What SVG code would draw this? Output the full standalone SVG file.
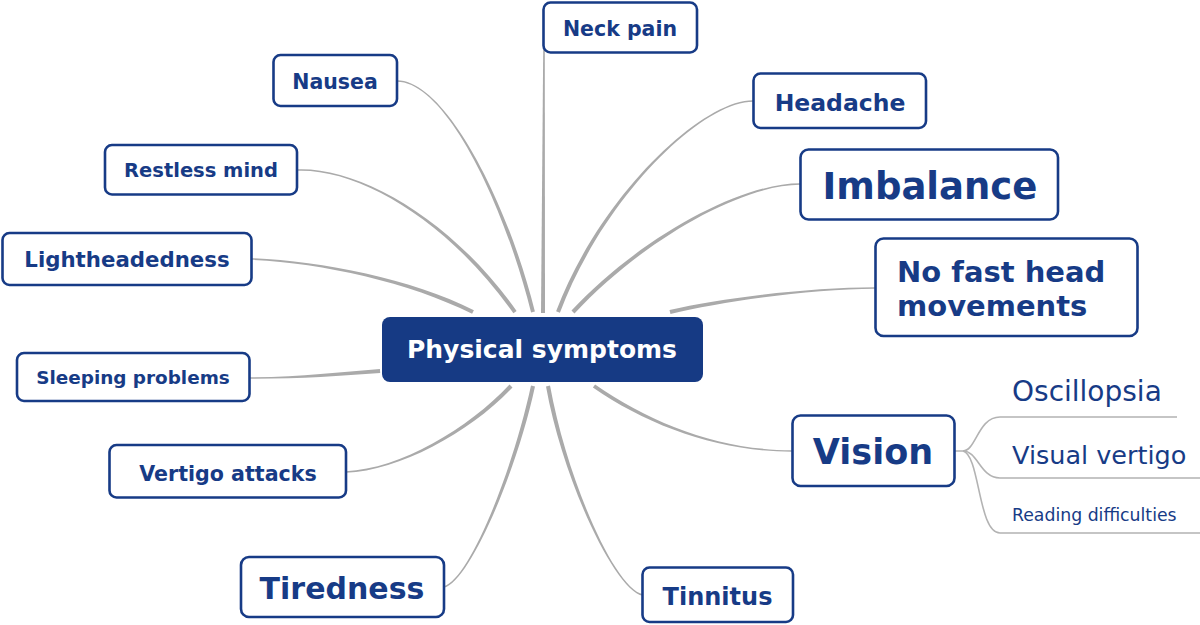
<svg xmlns="http://www.w3.org/2000/svg" width="1200" height="625" viewBox="0 0 1200 625">
<style>
.box{fill:#ffffff;stroke:#173b86;stroke-width:2.6}
.lbl{font-family:"DejaVu Sans","Verdana",sans-serif;font-weight:bold;fill:#173b86;text-anchor:middle}
.sub{font-family:"DejaVu Sans","Verdana",sans-serif;fill:#173b86}
.conn{fill:#aaaaaa;stroke:none}
.subline{fill:none;stroke:#b3b3b3;stroke-width:1.6}
</style>
<rect width="1200" height="625" fill="#ffffff"/>
<g id="connectors">
<path class="conn" d="M397,81.8 C445,81.8 503.1,200.5 531.1,312.5 L534.9,311.5 C506.9,199.5 445,80.2 397,80.2 Z"/>
<path class="conn" d="M298,170.8 C360,168.8 448.4,221.2 513.4,313.2 L516.6,310.9 C451.6,218.9 360,167.2 298,169.2 Z"/>
<path class="conn" d="M252,259.8 C320,262.8 409.1,281.8 472.1,313.8 L473.9,310.2 C410.9,278.2 320,261.2 252,258.2 Z"/>
<path class="conn" d="M543.2,50 L541,313 L545,313 L544.8,50 Z"/>
<path class="conn" d="M753,100.2 C700,100.2 598.1,199.3 556.1,311.3 L559.9,312.7 C601.9,200.7 700,101.8 753,101.8 Z"/>
<path class="conn" d="M800,183.2 C740,183.2 638.5,238.6 571.5,310.6 L574.5,313.4 C641.5,241.4 740,184.8 800,184.8 Z"/>
<path class="conn" d="M875,287.2 C810,287.2 719.5,298.1 669.5,310.1 L670.5,313.9 C720.5,301.9 810,288.8 875,288.8 Z"/>
<path class="conn" d="M250,378.8 C300,378.8 340.2,376 380.2,373 L379.9,369 C339.9,372 300,377.2 250,377.2 Z"/>
<path class="conn" d="M346,472.8 C400,470.8 471.5,431.4 512.5,387.4 L509.5,384.6 C468.5,428.6 400,469.2 346,471.2 Z"/>
<path class="conn" d="M444.2,587.8 C470.2,580.8 517,470.4 535,386.4 L531,385.6 C513,469.6 469.8,579.2 443.8,586.2 Z"/>
<path class="conn" d="M643.1,594.2 C615.1,589.2 567,479.6 550,385.6 L546,386.4 C563,480.4 614.9,590.8 642.9,595.8 Z"/>
<path class="conn" d="M792,450.2 C720,450.2 651.1,423.4 595.1,384.4 L592.9,387.6 C648.9,426.6 720,451.8 792,451.8 Z"/>
<path class="subline" d="M955,451 L963,451 C976,451 978,417 1000,417 L1177,417"/>
<path class="subline" d="M963,451 C978,451 980,478 1000,478 L1200,478"/>
<path class="subline" d="M963,451 C980,455 978,533 1000,533 L1200,533"/>
</g>
<g id="center">
<rect x="382" y="317" width="321" height="65" rx="8" fill="#163a84"/>
<text x="542" y="358" class="lbl" style="fill:#ffffff;font-size:25px">Physical symptoms</text>
</g>
<g id="neck-pain">
<rect class="box" x="543.5" y="2.5" width="153.5" height="50" rx="7"/>
<text x="620" y="36" class="lbl" style="font-size:20.5px">Neck pain</text>
</g>
<g id="nausea">
<rect class="box" x="273.5" y="55" width="123.5" height="51" rx="7"/>
<text x="335" y="89" class="lbl" style="font-size:20.5px">Nausea</text>
</g>
<g id="headache">
<rect class="box" x="753.5" y="73.5" width="172.5" height="54.5" rx="7"/>
<text x="840" y="111" class="lbl" style="font-size:23.5px">Headache</text>
</g>
<g id="restless-mind">
<rect class="box" x="105" y="145" width="192" height="49.5" rx="7"/>
<text x="201" y="177" class="lbl" style="font-size:19.5px">Restless mind</text>
</g>
<g id="imbalance">
<rect class="box" x="800.5" y="149.5" width="257.5" height="70" rx="8"/>
<text x="930" y="199" class="lbl" style="font-size:37px">Imbalance</text>
</g>
<g id="lightheadedness">
<rect class="box" x="2.5" y="233" width="249" height="52" rx="7"/>
<text x="127" y="267" class="lbl" style="font-size:21.3px">Lightheadedness</text>
</g>
<g id="no-fast-head-movements">
<rect class="box" x="875.5" y="238.5" width="262" height="97.5" rx="8"/>
<text x="897" y="282" class="lbl" style="font-size:29px;text-anchor:start">No fast head</text>
<text x="897" y="316" class="lbl" style="font-size:29px;text-anchor:start">movements</text>
</g>
<g id="sleeping-problems">
<rect class="box" x="17" y="353" width="232.5" height="48" rx="7"/>
<text x="133" y="384" class="lbl" style="font-size:18.4px">Sleeping problems</text>
</g>
<g id="vertigo-attacks">
<rect class="box" x="109.5" y="445" width="236.5" height="52.5" rx="7"/>
<text x="228" y="481" class="lbl" style="font-size:20.6px">Vertigo attacks</text>
</g>
<g id="tiredness">
<rect class="box" x="241" y="557" width="203" height="60" rx="8"/>
<text x="342" y="599" class="lbl" style="font-size:30px">Tiredness</text>
</g>
<g id="tinnitus">
<rect class="box" x="642.5" y="567.5" width="150.5" height="54.5" rx="7"/>
<text x="717.5" y="605" class="lbl" style="font-size:24px">Tinnitus</text>
</g>
<g id="vision">
<rect class="box" x="792.5" y="415.5" width="162" height="70.5" rx="8"/>
<text x="873" y="464" class="lbl" style="font-size:35px">Vision</text>
</g>
<g id="vision-subtopics">
<text x="1012" y="401" class="sub" style="font-size:28px">Oscillopsia</text>
<text x="1012" y="464" class="sub" style="font-size:25.5px">Visual vertigo</text>
<text x="1012" y="521" class="sub" style="font-size:17.3px">Reading difficulties</text>
</g>
</svg>
